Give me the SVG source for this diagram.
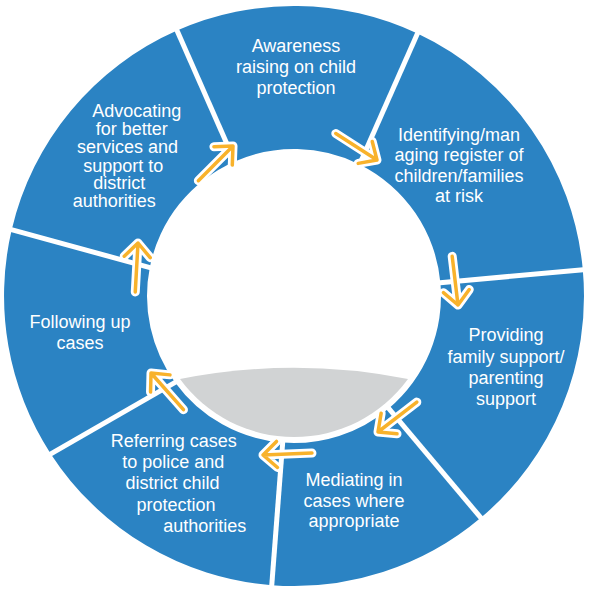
<svg xmlns="http://www.w3.org/2000/svg" xmlns:xlink="http://www.w3.org/1999/xlink" width="590" height="589" viewBox="0 0 590 589">
<style>
.seg{fill:#2b83c3}
.lbl{font-family:"Liberation Sans",Arial,sans-serif;font-size:18px;fill:#ffffff;text-anchor:middle}
.div{stroke:#ffffff;stroke-width:5;fill:none}
.halo{stroke:#ffffff;stroke-width:9;fill:none;stroke-linecap:round;stroke-linejoin:round}
.ar{stroke:#f8b22b;stroke-width:3.5;fill:none;stroke-linecap:round;stroke-linejoin:round}
</style>
<defs>
<path id="arr" d="M-49 0 H0 M-14 -13 L0 0 L-14 13"/>
</defs>
<rect width="590" height="589" fill="#ffffff"/>
<g id="awareness">
<path class="seg" d="M234.7 161.5 L177 30.6 A290 290 0 0 1 417.5 33.6 L359.6 164.4 A147 147 0 0 0 234.7 161.5 Z"/>
<text class="lbl"><tspan x="296" y="52.3">Awareness</tspan><tspan x="296" y="73.3">raising on child</tspan><tspan x="296" y="94.3">protection</tspan></text>
</g>
<g id="identifying">
<path class="seg" d="M359.6 164.4 L417.5 33.6 A290 290 0 0 1 582.8 269.7 L440.4 282.7 A147 147 0 0 0 359.6 164.4 Z"/>
<text class="lbl"><tspan x="459" y="140.5">Identifying/man</tspan><tspan x="459" y="161">aging register of</tspan><tspan x="459" y="181.5">children/families</tspan><tspan x="459" y="202">at risk</tspan></text>
</g>
<g id="providing">
<path class="seg" d="M440.4 282.7 L582.8 269.7 A290 290 0 0 1 480.8 517.8 L388.7 408.4 A147 147 0 0 0 440.4 282.7 Z"/>
<text class="lbl"><tspan x="506" y="341">Providing</tspan><tspan x="506" y="362.5">family support/</tspan><tspan x="506" y="384">parenting</tspan><tspan x="506" y="405">support</tspan></text>
</g>
<g id="mediating">
<path class="seg" d="M388.7 408.4 L480.8 517.8 A290 290 0 0 1 271.8 585.2 L282.7 442.6 A147 147 0 0 0 388.7 408.4 Z"/>
<text class="lbl"><tspan x="354" y="486">Mediating in</tspan><tspan x="354" y="506.7">cases where</tspan><tspan x="354" y="527">appropriate</tspan></text>
</g>
<g id="referring">
<path class="seg" d="M282.7 442.6 L271.8 585.2 A290 290 0 0 1 50.8 453.9 L175.1 382.4 A147 147 0 0 0 282.7 442.6 Z"/>
<text class="lbl"><tspan x="173.8" y="446.7">Referring cases</tspan><tspan x="173.3" y="468.3">to police and</tspan><tspan x="172.5" y="489.3">district child</tspan><tspan x="176" y="510.7">protection</tspan><tspan x="204.7" y="531.7">authorities</tspan></text>
</g>
<g id="following">
<path class="seg" d="M175.1 382.4 L50.8 453.9 A290 290 0 0 1 11.7 229.8 L149.8 267.5 A147 147 0 0 0 175.1 382.4 Z"/>
<text class="lbl"><tspan x="80" y="328.3">Following up</tspan><tspan x="80" y="349">cases</tspan></text>
</g>
<g id="advocating">
<path class="seg" d="M149.8 267.5 L11.7 229.8 A290 290 0 0 1 177 30.6 L234.7 161.5 A147 147 0 0 0 149.8 267.5 Z"/>
<text class="lbl"><tspan x="136.7" y="116.7">Advocating</tspan><tspan x="131.7" y="135">for better</tspan><tspan x="127.5" y="153.3">services and</tspan><tspan x="123.3" y="171.7">support to</tspan><tspan x="119.3" y="189.3">district</tspan><tspan x="114.3" y="207.3">authorities</tspan></text>
</g>
<g id="dividers" class="div">
<line x1="235.9" y1="164.2" x2="174.6" y2="25.1"/>
<line x1="358.4" y1="167.1" x2="419.9" y2="28.1"/>
<line x1="437.4" y1="283" x2="588.8" y2="269.2"/>
<line x1="386.8" y1="406.1" x2="484.7" y2="522.4"/>
<line x1="282.9" y1="439.6" x2="271.3" y2="591.2"/>
<line x1="177.7" y1="380.9" x2="45.6" y2="456.9"/>
<line x1="152.7" y1="268.3" x2="5.9" y2="228.2"/>
</g>
<g id="centre">
<path fill="#d1d3d4" d="M180 379 A590 590 0 0 1 408 379 A141 141 0 0 1 180 379 Z"/>
</g>
<g id="connectors">
<g transform="translate(233 146) rotate(-45)"><use xlink:href="#arr" class="halo"/><use xlink:href="#arr" class="ar"/></g>
<g transform="translate(377 160) rotate(32.7)"><use xlink:href="#arr" class="halo"/><use xlink:href="#arr" class="ar"/></g>
<g transform="translate(458 305) rotate(83.2)"><use xlink:href="#arr" class="halo"/><use xlink:href="#arr" class="ar"/></g>
<g transform="translate(378 432) rotate(142.4)"><use xlink:href="#arr" class="halo"/><use xlink:href="#arr" class="ar"/></g>
<g transform="translate(263 455) rotate(177.8)"><use xlink:href="#arr" class="halo"/><use xlink:href="#arr" class="ar"/></g>
<g transform="translate(151 373) rotate(-131.5)"><use xlink:href="#arr" class="halo"/><use xlink:href="#arr" class="ar"/></g>
<g transform="translate(138 243) rotate(-86.8)"><use xlink:href="#arr" class="halo"/><use xlink:href="#arr" class="ar"/></g>
</g>
</svg>
